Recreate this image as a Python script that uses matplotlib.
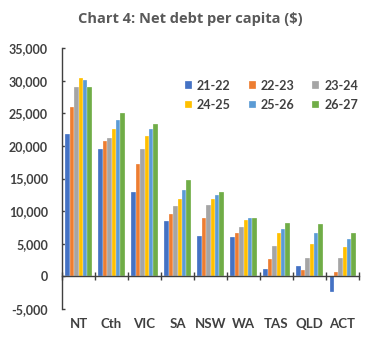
import matplotlib.pyplot as plt
import numpy as np
from matplotlib.ticker import FuncFormatter

states = ["NT", "Cth", "VIC", "SA", "NSW", "WA", "TAS", "QLD", "ACT"]
years = ["21-22", "22-23", "23-24", "24-25", "25-26", "26-27"]

fy2122 = [21900, 19600, 13000, 8500, 6150, 6050, 1100, 1600, -2500]
fy2223 = [26000, 20700, 17200, 9600, 8900, 6700, 2600, 1000, 600]
fy2324 = [29000, 21300, 19500, 10800, 10900, 7600, 4700, 2800, 2800]
fy2425 = [30500, 22600, 21500, 11800, 11800, 8600, 6600, 4900, 4500]
fy2526 = [30100, 24000, 22600, 13300, 12500, 9000, 7300, 6600, 5700]
fy2627 = [29100, 25000, 23400, 14800, 13000, 8900, 8150, 8000, 6600]

series = [fy2122, fy2223, fy2324, fy2425, fy2526, fy2627]
colors = ["#4472C4", "#ED7D31", "#A5A5A5", "#FFC000", "#5B9BD5", "#70AD47"]

plt.rcParams["font.family"] = ["Lato", "DejaVu Sans"]
plt.rcParams["font.weight"] = "bold"
text_col = "#404040"

fig = plt.figure(figsize=(3.84, 3.41), dpi=100)
ax = fig.add_axes([0.1615, 0.0947, 0.935 - 0.1615, 0.858 - 0.0947])

x = np.arange(len(states))
w = 0.79 / len(series)
bars = []
for i, vals in enumerate(series):
    b = ax.bar(x - 0.395 + w * (i + 0.5), vals, width=w, color=colors[i],
               label=years[i], edgecolor="white", linewidth=0.2, zorder=2)
    bars.append(b)

ax.set_xlim(-0.5, len(states) - 0.5)
ax.set_ylim(-5000, 35000)
ax.set_yticks(range(-5000, 35001, 5000))
ax.yaxis.set_major_formatter(FuncFormatter(lambda v, p: f"{int(v):,}"))
ax.tick_params(axis="y", direction="in", length=2.5, width=1, color=text_col,
               labelsize=9, labelcolor=text_col, pad=10)

# category boundaries on the zero line, names at the bottom
ax.spines["bottom"].set_position(("data", 0))
ax.set_xticks(np.arange(-0.5, len(states), 1))
ax.set_xticklabels([])
ax.tick_params(axis="x", which="major", direction="inout", length=6, width=1,
               color=text_col)
ax.set_xticks(x, minor=True)
ax.set_xticklabels(states, minor=True)
ax.tick_params(axis="x", which="minor", length=0, labelsize=9.5,
               labelcolor=text_col, pad=30)

for s in ["top", "right"]:
    ax.spines[s].set_visible(False)
for s in ["left", "bottom"]:
    ax.spines[s].set_color(text_col)
    ax.spines[s].set_linewidth(1)

fig.text(0.495, 0.944, "Chart 4: Net debt per capita ($)", ha="center",
         va="center", fontsize=10.5, fontweight="bold", color="#595959",
         family=["Open Sans", "DejaVu Sans"])

# legend fills row by row: 21-22 22-23 23-24 / 24-25 25-26 26-27
order = [0, 3, 1, 4, 2, 5]
fig.legend([bars[i] for i in order], [years[i] for i in order],
           loc="upper left", bbox_to_anchor=(0.465, 0.785), ncol=3,
           frameon=False, fontsize=9, labelcolor=text_col, borderpad=0,
           handlelength=0.55, handleheight=0.55, handletextpad=0.4,
           columnspacing=1.45, labelspacing=0.6)

plt.savefig("out.png", dpi=100)
